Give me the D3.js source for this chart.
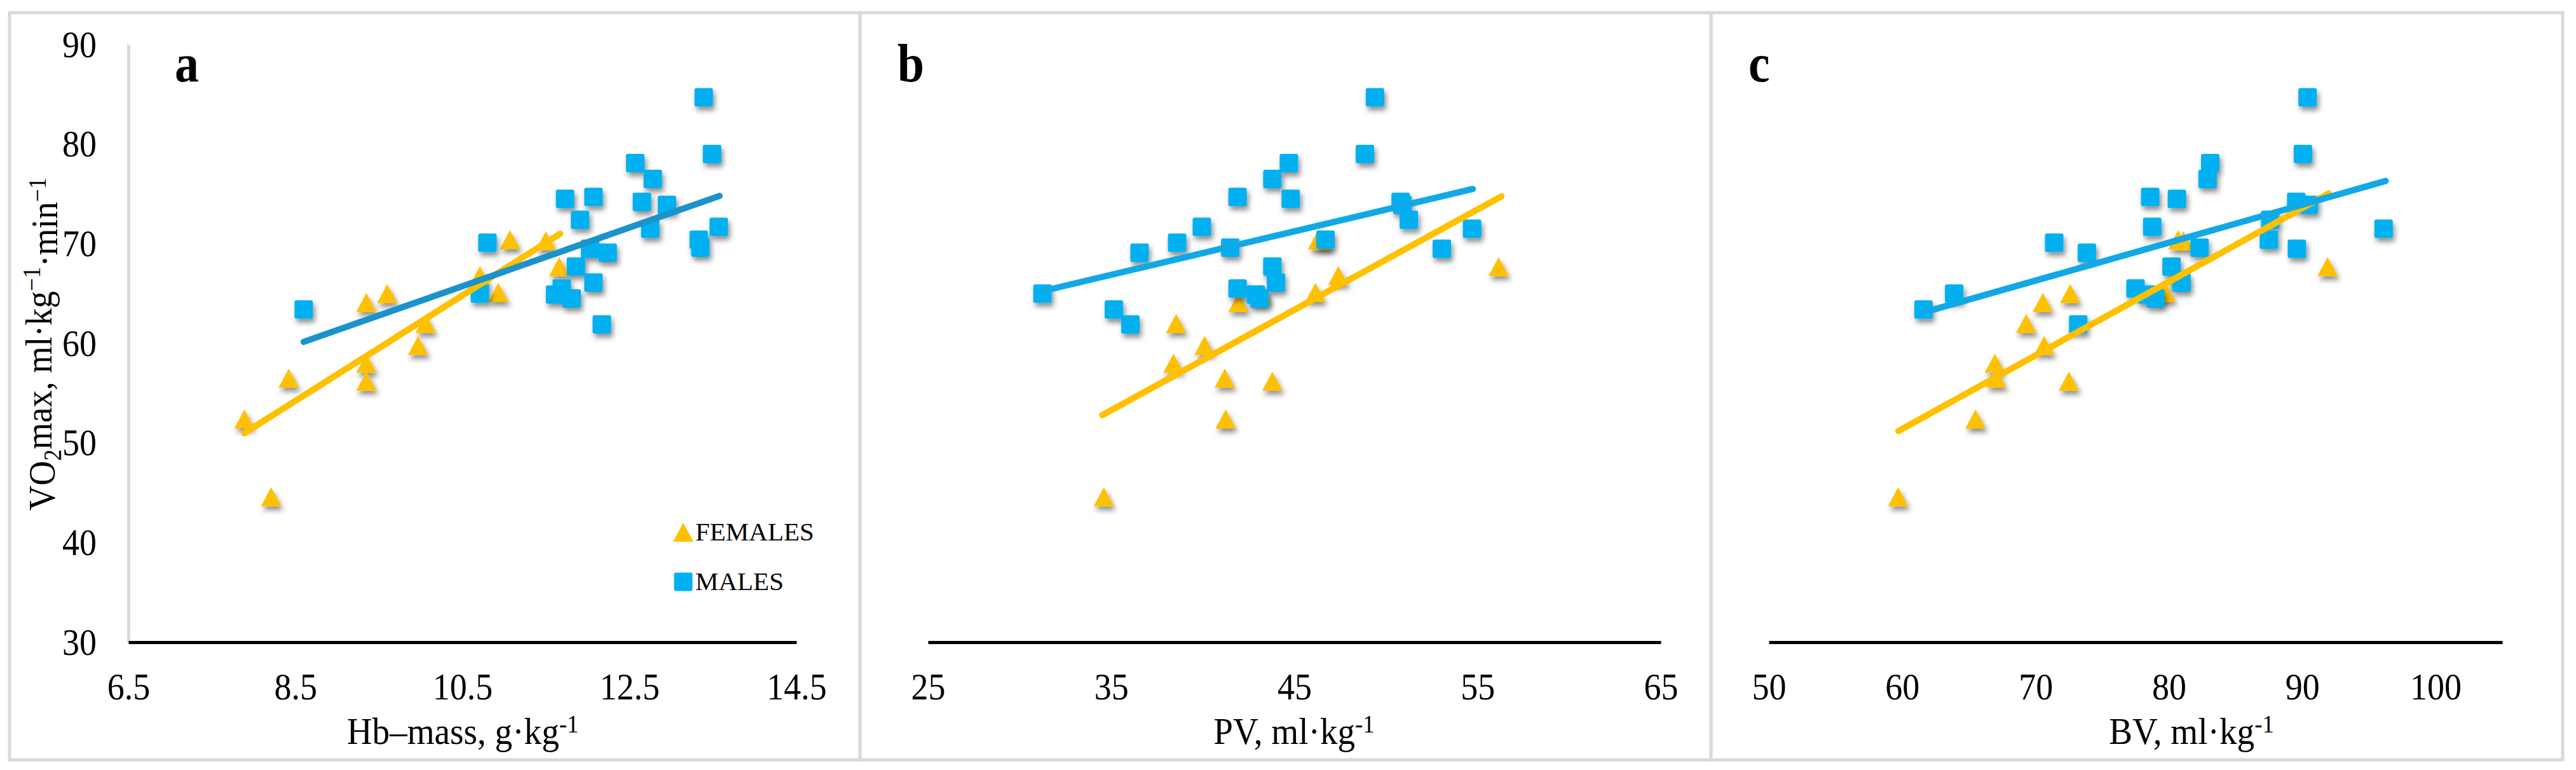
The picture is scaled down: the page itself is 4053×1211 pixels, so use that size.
<!DOCTYPE html>
<html>
<head>
<meta charset="utf-8">
<script src="https://cdn.jsdelivr.net/npm/d3@7"></script>
<style>
  body { margin: 0; background: #fff; }
  svg text { font-family: "Liberation Serif", "Times New Roman", serif; fill: #000; }
</style>
</head>
<body>
<svg id="chart"></svg>
<script>
// VO2max against Hb-mass, PV and BV, females (triangles) and males (squares)

// VO2max values, shared by the three panels (ml·kg-1·min-1)
const femaleVO2 = [44.6, 52.4, 56.2, 56.5, 58.0, 59.8, 62.0, 64.1, 65.0, 65.1, 66.8, 67.7, 70.3, 70.4];
const maleVO2 = [61.9, 63.4, 64.5, 64.9, 65.0, 65.5, 66.1, 67.7, 69.1, 69.5, 69.6, 70.1,
                 70.4, 71.5, 71.7, 72.4, 73.9, 74.2, 74.5, 74.7, 76.5, 78.1, 79.0, 84.7];

// x values, same order as the VO2 arrays
const femaleHb = [8.21, 7.89, 9.35, 8.42, 9.35, 9.97, 10.06, 9.35, 9.60, 10.93, 10.71, 11.66, 11.50, 11.07];
const femalePV = [34.6, 41.25, 43.8, 41.2, 38.4, 40.1, 38.55, 41.95, 43.2, 46.15, 47.4, 56.15, 46.5, 46.3];
const femaleBV = [59.7, 65.5, 72.5, 67.05, 66.95, 70.65, 69.3, 70.55, 72.6, 79.75, 80.6, 91.9, 81.1, 80.7];

const maleHb = [12.17, 8.60, 11.81, 11.61, 10.71, 11.69, 12.07, 11.86, 12.24, 12.03, 13.35, 10.80,
                13.33, 12.75, 13.57, 11.91, 12.95, 12.65, 11.73, 12.07, 12.78, 12.57, 13.49, 13.39];
const malePV = [36.05, 35.15, 43.1, 42.9, 31.25, 41.9, 44.0, 43.8, 36.55, 53.05, 41.5, 38.6,
                46.7, 54.7, 39.95, 51.25, 50.9, 50.8, 44.8, 41.9, 43.8, 44.7, 48.85, 49.4];
const maleBV = [73.2, 61.6, 79.0, 78.35, 63.9, 77.5, 80.95, 80.2, 73.85, 89.6, 82.3, 71.4,
                87.5, 96.1, 78.75, 87.6, 90.5, 89.55, 80.6, 78.6, 82.9, 83.1, 90.05, 90.4];

// trend line end points [[x0, y0], [x1, y1]] as drawn
const trendHbF = [[7.89, 51.0], [11.67, 71.0]];
const trendHbM = [[8.60, 60.15], [13.58, 74.8]];
const trendPVF = [[34.52, 52.8], [56.3, 74.75]];
const trendPVM = [[31.26, 65.25], [54.74, 75.5]];
const trendBVF = [[59.72, 51.2], [92.0, 75.05]];
const trendBVM = [[61.6, 63.1], [96.25, 76.3]];

// axis ticks
const yTicks = [30, 40, 50, 60, 70, 80, 90];
const hbTicks = [6.5, 8.5, 10.5, 12.5, 14.5];
const pvTicks = [25, 35, 45, 55, 65];
const bvTicks = [50, 60, 70, 80, 90, 100];

const legendLabels = ['FEMALES', 'MALES'];

const W = 4053, H = 1211;
const FEMALE = '#ffc000', MALE = '#00b0f0';
const axisY = 1010;

const svg = d3.select('#chart').attr('width', W).attr('height', H);

const defs = svg.append('defs');
defs.append('filter')
  .attr('id', 'shadow')
  .attr('x', '-60%').attr('y', '-60%').attr('width', '220%').attr('height', '220%')
  .append('feDropShadow')
  .attr('dx', 3).attr('dy', 6).attr('stdDeviation', 4)
  .attr('flood-color', '#000').attr('flood-opacity', 0.45);

const y = d3.scaleLinear().domain([30, 90]).range([axisY, 70]);

const zip = (xs, ys) => xs.map((v, i) => [v, ys[i]]);

const panels = [
  { frame: [15, 1353], domain: [6.5, 14.5], range: [202, 1253], ticks: hbTicks, fmt: d3.format('.1f'),
    fem: zip(femaleHb, femaleVO2), mal: zip(maleHb, maleVO2), tf: trendHbF, tm: trendHbM, tmColor: '#1a93cb',
    letter: 'a', letterX: 275, title: 'Hb\u2013mass,  g\u00b7kg', titleX: 728 },
  { frame: [1353, 2692], domain: [25, 65], range: [1460, 2613], ticks: pvTicks, fmt: d3.format('d'),
    fem: zip(femalePV, femaleVO2), mal: zip(malePV, maleVO2), tf: trendPVF, tm: trendPVM, tmColor: '#12a8e6',
    letter: 'b', letterX: 1412, title: 'PV, ml\u00b7kg', titleX: 2036 },
  { frame: [2692, 4032], domain: [50, 105], range: [2783, 3937], ticks: bvTicks, fmt: d3.format('d'),
    fem: zip(femaleBV, femaleVO2), mal: zip(maleBV, maleVO2), tf: trendBVF, tm: trendBVM, tmColor: '#12a8e6',
    letter: 'c', letterX: 2751, title: 'BV, ml\u00b7kg', titleX: 3448 },
];

const triPath = 'M0,-15L16,15L-16,15Z';

// panel frames
svg.append('g').selectAll('rect')
  .data(panels)
  .enter()
  .append('rect')
  .attr('x', (d) => d.frame[0])
  .attr('y', 20)
  .attr('width', (d) => d.frame[1] - d.frame[0])
  .attr('height', 1175)
  .attr('fill', 'none')
  .attr('stroke', '#d9d9d9')
  .attr('stroke-width', 5);

// y axis only on the first panel
const yAxis = svg.append('g')
  .attr('transform', 'translate(202,0)')
  .call(d3.axisLeft(y).tickValues(yTicks).tickSize(0).tickSizeOuter(0).tickPadding(50));
yAxis.select('.domain').attr('stroke', '#d9d9d9').attr('stroke-width', 5);
yAxis.selectAll('.tick text')
  .attr('x', -50 / 0.9)
  .attr('transform', 'scale(0.9,1)')
  .style('font-size', '60px');

// y title
const yTitle = svg.append('text')
  .attr('transform', 'translate(86,541) rotate(-90) scale(0.9,1)')
  .attr('text-anchor', 'middle')
  .style('font-size', '60px');
yTitle.append('tspan').text('VO');
yTitle.append('tspan').attr('dy', '0.25em').style('font-size', '40px').text('2');
yTitle.append('tspan').attr('dy', '-0.25em').text('max,  ml\u00b7kg');
yTitle.append('tspan').attr('dy', '-0.45em').style('font-size', '40px').text('\u22121');
yTitle.append('tspan').attr('dy', '0.45em').text('\u00b7min');
yTitle.append('tspan').attr('dy', '-0.45em').style('font-size', '40px').text('\u22121');

panels.forEach((p) => {
  const x = d3.scaleLinear().domain(p.domain).range(p.range);
  const g = svg.append('g');

  const xAxis = g.append('g')
    .attr('transform', `translate(0,${axisY})`)
    .call(d3.axisBottom(x).tickValues(p.ticks).tickFormat(p.fmt)
      .tickSize(0).tickSizeOuter(0).tickPadding(47));
  xAxis.select('.domain').attr('stroke', '#000').attr('stroke-width', 5);
  xAxis.selectAll('.tick text')
    .attr('transform', 'scale(0.9,1)')
    .style('font-size', '60px');

  // x title
  const t = g.append('text')
    .attr('transform', `translate(${p.titleX},1170) scale(0.92,1)`)
    .attr('text-anchor', 'middle')
    .style('font-size', '60px');
  t.append('tspan').text(p.title);
  t.append('tspan').attr('dy', '-0.45em').style('font-size', '40px').text('-1');

  // panel letter
  g.append('text')
    .attr('transform', `translate(${p.letterX},128) scale(0.9,1)`)
    .style('font-size', '84px')
    .style('font-weight', 'bold')
    .text(p.letter);

  // females
  g.append('g')
    .attr('filter', 'url(#shadow)')
    .selectAll('path')
    .data(p.fem)
    .enter()
    .append('path')
    .attr('d', triPath)
    .attr('transform', (d) => `translate(${x(d[0])},${y(d[1])})`)
    .attr('fill', FEMALE);

  // males
  g.append('g')
    .attr('filter', 'url(#shadow)')
    .selectAll('rect')
    .data(p.mal)
    .enter()
    .append('rect')
    .attr('x', (d) => x(d[0]) - 14.5)
    .attr('y', (d) => y(d[1]) - 14.5)
    .attr('width', 29)
    .attr('height', 29)
    .attr('rx', 3)
    .attr('fill', MALE);

  // trend lines
  const line = d3.line().x((d) => x(d[0])).y((d) => y(d[1]));
  g.append('path')
    .attr('d', line(p.tf))
    .attr('fill', 'none')
    .attr('stroke', FEMALE)
    .attr('stroke-width', 10)
    .attr('stroke-linecap', 'round');
  g.append('path')
    .attr('d', line(p.tm))
    .attr('fill', 'none')
    .attr('stroke', p.tmColor)
    .attr('stroke-width', 10)
    .attr('stroke-linecap', 'round');
});

// legend in panel a
const legend = svg.append('g').attr('transform', 'translate(1075,837)');
legend.append('path').attr('d', triPath).attr('fill', FEMALE);
legend.append('rect')
  .attr('x', -14.5).attr('y', 78 - 14.5)
  .attr('width', 29).attr('height', 29).attr('rx', 3)
  .attr('fill', MALE);
legend.selectAll('text')
  .data(legendLabels)
  .enter()
  .append('text')
  .attr('x', 19)
  .attr('y', (d, i) => 13 + i * 78)
  .style('font-size', '41px')
  .text((d) => d);
</script>
</body>
</html>
